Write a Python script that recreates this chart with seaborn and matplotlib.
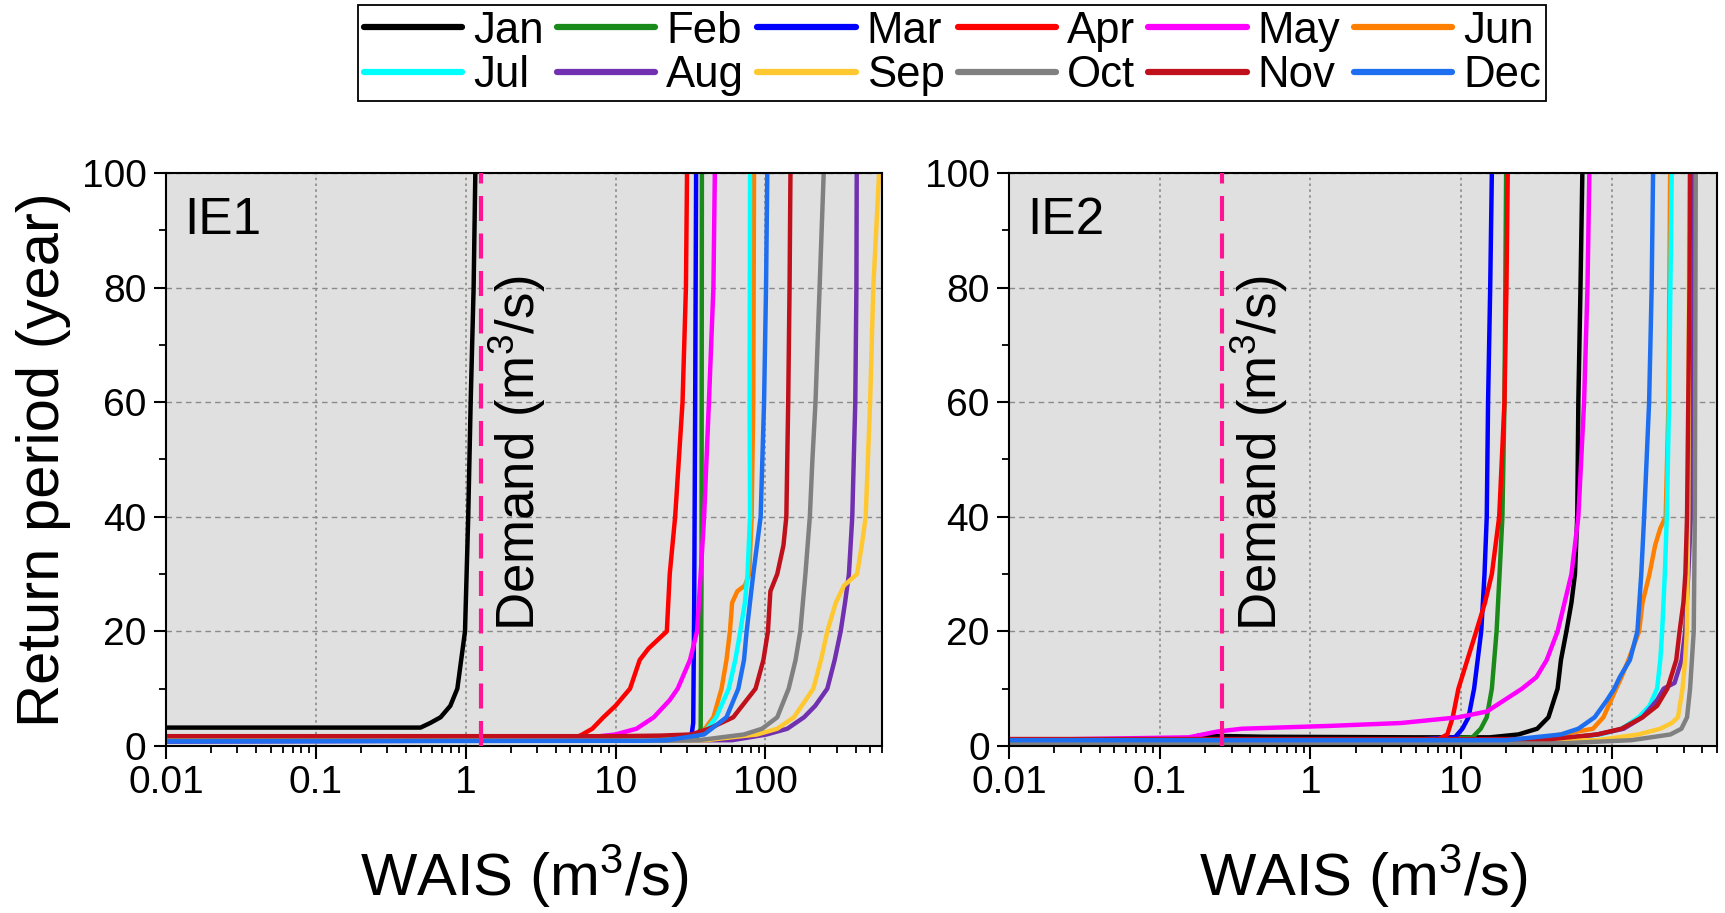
import numpy as np
import pandas as pd
import matplotlib
matplotlib.use('Agg')
import matplotlib.pyplot as plt
import seaborn as sns
from matplotlib.lines import Line2D
from matplotlib.ticker import MultipleLocator, LogLocator, FixedLocator, FixedFormatter

months = ['Jan', 'Feb', 'Mar', 'Apr', 'May', 'Jun', 'Jul', 'Aug', 'Sep', 'Oct', 'Nov', 'Dec']
month_colors = ['#000000', '#1a8a1a', '#0000ff', '#ff0000', '#ff00ff', '#ff8000',
                '#00ffff', '#7030b0', '#ffc830', '#808080', '#c0101c', '#1e6ff0']

# demand lines (m3/s)
demand_ie1 = 1.27
demand_ie2 = 0.26

# ---- IE1 curves: WAIS (x) vs return period (y) ----
ie1_jan_x = [0.01, 0.5, 0.58, 0.68, 0.79, 0.88, 0.99, 1.04, 1.08, 1.13, 1.16]
ie1_jan_y = [3.2, 3.2, 4, 5, 7, 10, 20, 40, 60, 80, 100]
ie1_feb_x = [0.01, 25, 35, 37, 37.5, 37.7]
ie1_feb_y = [0.9, 1.1, 1.6, 3, 30, 100]
ie1_mar_x = [0.01, 22, 32, 33, 33.5, 34, 34.5]
ie1_mar_y = [0.8, 1.0, 1.5, 4, 25, 60, 100]
ie1_apr_x = [0.01, 5.5, 6, 7, 8.3, 10, 12.5, 14.5, 16.6, 22, 23, 25, 28, 29.5, 30]
ie1_apr_y = [1.5, 1.5, 2, 3, 5, 7, 10, 15, 17, 20, 30, 40, 60, 80, 100]
ie1_may_x = [0.01, 4, 6.7, 10, 13.8, 18, 23, 26, 31.4, 35, 37, 39, 42, 45, 46]
ie1_may_y = [1.2, 1.2, 1.5, 2, 3, 5, 8, 10, 15, 20, 30, 40, 60, 80, 100]
ie1_jun_x = [0.01, 20, 37, 45, 51, 55, 58, 60, 65, 73, 78, 81, 83, 84]
ie1_jun_y = [1.0, 1.2, 2, 5, 10, 15, 20, 25, 27, 28, 30, 40, 60, 100]
ie1_jul_x = [0.01, 20, 35, 41, 47, 57, 63, 68, 73, 76, 79, 78.5, 79]
ie1_jul_y = [1.0, 1.1, 2, 3, 5, 10, 15, 20, 25, 30, 40, 60, 100]
ie1_aug_x = [0.01, 60, 102, 140, 181, 215, 259, 290, 318, 340, 361, 380, 398, 405, 407]
ie1_aug_y = [0.8, 1, 2, 3, 5, 7, 10, 15, 20, 25, 30, 40, 60, 80, 100]
ie1_sep_x = [0.01, 40, 88, 120, 155, 209, 235, 259, 295, 335, 409, 440, 467, 500, 525, 574]
ie1_sep_y = [0.9, 1, 2, 3, 5, 10, 15, 20, 25, 28, 30, 35, 40, 60, 80, 100]
ie1_oct_x = [0.01, 20, 36, 72, 95, 120, 143, 159, 171, 185, 198, 206, 216, 230, 245]
ie1_oct_y = [0.9, 0.9, 1, 2, 3, 5, 10, 15, 20, 30, 40, 50, 60, 80, 100]
ie1_nov_x = [0.01, 10, 20, 32, 42, 61, 86, 97, 104, 108, 120, 132, 138, 142, 145, 147]
ie1_nov_y = [1.7, 1.7, 1.8, 2, 3, 5, 10, 15, 20, 27, 30, 35, 40, 60, 80, 100]
ie1_dec_x = [0.01, 15, 22, 39, 55, 66, 72, 75, 83, 93, 98, 101, 103]
ie1_dec_y = [0.8, 0.9, 1, 2, 5, 10, 15, 20, 30, 40, 60, 80, 100]

# ---- IE2 curves ----
ie2_jan_x = [0.18, 0.5, 5, 15.5, 24, 32, 38, 43.7, 46, 50, 54, 57, 59, 60, 62, 63.8]
ie2_jan_y = [1.8, 1.6, 1.5, 1.5, 2, 3, 5, 10, 15, 20, 25, 30, 40, 60, 80, 100]
ie2_feb_x = [0.01, 5, 11.9, 13.5, 14.8, 16, 17.2, 18, 18.8, 19.4, 19.9]
ie2_feb_y = [1, 1.1, 1.5, 3, 5, 10, 20, 30, 40, 60, 100]
ie2_mar_x = [0.01, 5, 9.1, 10.2, 11.2, 12.2, 13.6, 14.3, 14.8, 15.1, 15.6, 16]
ie2_mar_y = [1, 1.1, 1.5, 3, 5, 10, 20, 30, 40, 60, 80, 100]
ie2_apr_x = [0.01, 6.9, 8.1, 8.8, 9.6, 11, 12.6, 14.4, 16, 17.9, 19.4, 20, 20.4]
ie2_apr_y = [0.8, 1, 2, 5, 10, 15, 20, 25, 30, 40, 60, 80, 100]
ie2_may_x = [0.01, 0.156, 0.24, 0.35, 1.36, 4, 9.6, 14.8, 19.4, 25.4, 31.6, 37, 43.7, 48.6, 54, 60, 65.5, 69, 71]
ie2_may_y = [1, 1.5, 2.5, 3, 3.5, 4, 5, 6, 8, 10, 12, 15, 20, 25, 30, 40, 60, 80, 100]
ie2_jun_x = [0.01, 30, 46, 75, 88, 107, 116, 129, 152, 160, 178, 194, 210, 228, 238, 244]
ie2_jun_y = [1, 1.1, 2, 3, 5, 10, 12, 15, 20, 25, 30, 35, 38, 40, 60, 100]
ie2_jul_x = [0.01, 35, 84, 116, 151, 178, 200, 210, 216, 225, 232, 240, 245, 250]
ie2_jul_y = [1, 1, 2, 3, 5, 7, 10, 15, 20, 30, 40, 60, 80, 100]
ie2_aug_x = [0.01, 40, 80, 120, 160, 200, 221, 261, 291, 307, 322, 335, 345, 352]
ie2_aug_y = [1, 1, 2, 3, 5, 8, 10, 11, 15, 20, 30, 40, 60, 100]
ie2_sep_x = [0.01, 80, 150, 210, 250, 275, 295, 307, 315, 322, 327]
ie2_sep_y = [0.9, 1, 2, 3, 4, 5, 10, 15, 20, 40, 100]
ie2_oct_x = [0.01, 50, 135, 245, 290, 316, 331, 350, 356, 361]
ie2_oct_y = [0.5, 0.5, 1, 2, 3, 5, 10, 20, 40, 100]
ie2_nov_x = [0.01, 40, 80, 116, 160, 200, 234, 268, 282, 299, 308, 316, 322, 328, 331]
ie2_nov_y = [1.2, 1.2, 2, 3, 5, 7, 10, 15, 20, 25, 30, 40, 60, 80, 100]
ie2_dec_x = [0.01, 20, 46, 60, 77, 93, 104, 113, 132, 148, 157, 164, 177, 184, 188]
ie2_dec_y = [1, 1, 2, 3, 5, 8, 10, 12, 15, 20, 30, 40, 60, 80, 100]

ie1_curves = [(ie1_jan_x, ie1_jan_y), (ie1_feb_x, ie1_feb_y), (ie1_mar_x, ie1_mar_y),
              (ie1_apr_x, ie1_apr_y), (ie1_may_x, ie1_may_y), (ie1_jun_x, ie1_jun_y),
              (ie1_jul_x, ie1_jul_y), (ie1_aug_x, ie1_aug_y), (ie1_sep_x, ie1_sep_y),
              (ie1_oct_x, ie1_oct_y), (ie1_nov_x, ie1_nov_y), (ie1_dec_x, ie1_dec_y)]
ie2_curves = [(ie2_jan_x, ie2_jan_y), (ie2_feb_x, ie2_feb_y), (ie2_mar_x, ie2_mar_y),
              (ie2_apr_x, ie2_apr_y), (ie2_may_x, ie2_may_y), (ie2_jun_x, ie2_jun_y),
              (ie2_jul_x, ie2_jul_y), (ie2_aug_x, ie2_aug_y), (ie2_sep_x, ie2_sep_y),
              (ie2_oct_x, ie2_oct_y), (ie2_nov_x, ie2_nov_y), (ie2_dec_x, ie2_dec_y)]


def to_frame(curves):
    rows = []
    for m, (xs, ys) in zip(months, curves):
        for i, (x, y) in enumerate(zip(xs, ys)):
            rows.append({'Month': m, 'order': i, 'WAIS': x, 'Return': y})
    return pd.DataFrame(rows)


sns.set_theme(style='ticks', rc={'text.color': 'black', 'axes.labelcolor': 'black',
                                 'xtick.color': 'black', 'ytick.color': 'black'})
plt.rcParams['font.family'] = ['Liberation Sans', 'DejaVu Sans']
plt.rcParams['mathtext.default'] = 'regular'

palette = dict(zip(months, month_colors))

fig = plt.figure(figsize=(17.25, 9.13), dpi=100)
ax1 = fig.add_axes([0.0962, 0.183, 0.4151, 0.6275])
ax2 = fig.add_axes([0.585, 0.183, 0.4104, 0.6275])

panels = [(ax1, ie1_curves, demand_ie1, 'IE1', 600),
          (ax2, ie2_curves, demand_ie2, 'IE2', 500)]

for ax, curves, demand, name, xmax in panels:
    df = to_frame(curves)
    ax.set_facecolor('#e0e0e0')
    sns.lineplot(data=df, x='WAIS', y='Return', hue='Month', palette=palette,
                 estimator=None, sort=False, linewidth=3.2, legend=False, ax=ax)
    ax.set_xscale('log')
    ax.set_xlim(0.01, xmax)
    ax.set_ylim(0, 100)
    ax.axvline(demand, color='#ff1493', linestyle=(0, (6, 3)), linewidth=3, zorder=5)
    ax.text(demand * 1.75, 51, 'Demand (m$^3$/s)', rotation=90, ha='center', va='center',
            fontsize=38)
    ax.text(0.025, 0.96, name, transform=ax.transAxes, ha='left', va='top', fontsize=37)

    ax.xaxis.set_major_locator(FixedLocator([0.01, 0.1, 1, 10, 100]))
    ax.xaxis.set_major_formatter(FixedFormatter(['0.01', '0.1', '1', '10', '100']))
    ax.xaxis.set_minor_locator(LogLocator(base=10, subs=np.arange(2, 10)))
    ax.yaxis.set_major_locator(MultipleLocator(20))
    ax.yaxis.set_minor_locator(MultipleLocator(10))
    ax.grid(True, which='major', axis='y', linestyle=(0, (4, 3)), color='#8a8a8a', linewidth=1)
    ax.grid(True, which='major', axis='x', linestyle=(0, (1.5, 2)), color='#8a8a8a', linewidth=1.2)
    ax.tick_params(axis='both', which='major', labelsize=28, length=9, width=1.5,
                   direction='out', pad=5)
    ax.tick_params(axis='both', which='minor', length=5, width=1.3, direction='out')
    for s in ax.spines.values():
        s.set_color('black')
        s.set_linewidth(1.5)
    ax.set_xlabel('WAIS (m$^3$/s)', fontsize=43, labelpad=30)
    ax.set_ylabel('')

ax1.set_ylabel('Return period (year)', fontsize=43, labelpad=8)

handles = [Line2D([0], [0], color=c, linewidth=4.5) for c in month_colors]
order = [0, 6, 1, 7, 2, 8, 3, 9, 4, 10, 5, 11]
leg = fig.legend([handles[i] for i in order], [months[i] for i in order],
                 loc='upper center', bbox_to_anchor=(0.552, 0.999), ncol=6,
                 fontsize=31.5, handlelength=2.25, handletextpad=0.25, columnspacing=0.3,
                 borderpad=0.12, labelspacing=0.08, borderaxespad=0.1, frameon=True,
                 fancybox=False, framealpha=1, edgecolor='black')
leg.get_frame().set_linewidth(1.3)

fig.savefig('out.png', dpi=100)
